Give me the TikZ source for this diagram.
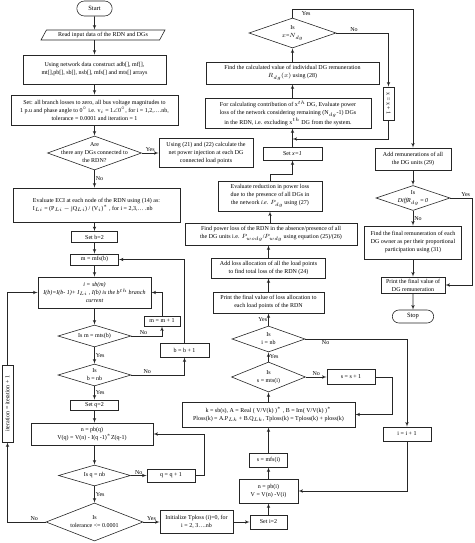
\documentclass[tikz,border=0pt]{standalone}
\usepackage{fontspec}
\setmainfont{Liberation Serif}
\usepackage{amsmath}
\usepackage{ amssymb }
\DeclareMathSizes{6}{6}{4.3}{3.5}
\usetikzlibrary{arrows}
\usetikzlibrary{shapes.geometric,shapes.misc}

\begin{document}
\begin{tikzpicture}[x=1pt,y=-1pt,->,>=latex',line width=0.6pt,color=black!85,
  box node/.style={draw,rectangle,align=center,inner sep=0.5pt,text=black,font=\fontsize{6}{8}\selectfont},
  test node/.style={draw,diamond,inner sep=0pt},
  in text/.style={align=center,inner sep=0pt,text=black,font=\fontsize{6}{8}\selectfont},
  end node/.style={draw,rounded rectangle,text=black,font=\fontsize{6.5}{8}\selectfont},
  io node/.style={draw,trapezium,trapezium left angle=50,trapezium right angle=130,trapezium stretches body,
    inner sep=0.5pt,text=black,font=\fontsize{6}{8}\selectfont},
  tag node/.style={inner sep=1pt,text=black,font=\fontsize{6}{7}\selectfont},
  box size/.style 2 args={minimum width=#1pt,minimum height=#2pt}]

  \path[use as bounding box] (0,0) rectangle (474,543);

  \node[end node,box size={42}{15}] (start) at (94.5,8.5) {Start};
  \node[io node,box size={124}{10}] (readin) at (103,35) {Read input data of the RDN and DGs};
  \node[box node,box size={143}{29}] (netdata) at (94.5,69.5) {Using network data construct adb[], mf[],\\mt[],pb[], sb[], nsb[], mfs[] and mts[] arrays};
  \node[box node,box size={167}{30}] (setall) at (94.5,110) {Set: all branch losses to zero, all bus voltage magnitudes to\\1 p.u and phase angle to 0$^\circ$ i.e. v$_i$ = 1$\angle$0$^\circ$, for i = 1,2,….nb,\\tolerance = 0.0001 and iteration = 1};
  \node[test node,box size={94}{34},label={[in text]center:{Are\\there any DGs connected to\\the RDN?}}] (anydg) at (94.5,153) {};
  \node[box node,box size={94}{29}] (netinj) at (206,153) {Using (21) and (22) calculate the\\net power injection at each DG\\connected load points};
  \node[box node,box size={167}{34},align=left] (eci) at (96.5,205) {Evaluate ECI at each node of the RDN using  (14) as:\\I$_{Li}$ = (P$_{Li}$ $-$ jQ$_{Li}$) / (V$_i$)$^*$ , for i = 2,3,… .nb};
  \node[box node,box size={46}{11}] (setb) at (94.5,237) {Set b=2};
  \node[box node,box size={48}{11}] (mfsb) at (94.5,259.5) {m = mfs(b)};
  \node[box node,box size={113}{31},font=\fontsize{6}{8}\selectfont\itshape] (branch) at (94.5,292.5) {i = sb(m)\\I(b)=I(b- 1)+ I$_{Li}$ , I(b) is the b$^{th}$ branch\\current};
  \node[box node,box size={36}{10}] (mnext) at (162,321) {m = m + 1};
  \node[test node,box size={73}{22},label={[in text]center:{Is m = mts(b)}}] (mlast) at (94.5,336) {};
  \node[box node,box size={49}{14}] (bnext) at (184.5,350) {b = b + 1};
  \node[test node,box size={73}{22},label={[in text]center:{Is\\b = nb}}] (blast) at (94.5,375) {};
  \node[box node,box size={48}{10}] (setq) at (94.5,405) {Set q=2};
  \node[box node,box size={122}{22}] (volt) at (92,434) {n = pb(q)\\V(q) = V(n) - I(q -1)$^*$Z(q-1)};
  \node[test node,box size={72}{21},label={[in text]center:{Is q = nb}}] (qlast) at (94.5,475.5) {};
  \node[box node,box size={48}{13}] (qnext) at (171,475.5) {q = q + 1};
  \node[test node,box size={97}{38},label={[in text]center:{Is\\tolerance <= 0.0001}}] (tol) at (94.5,522) {};
  \node[box node,box size={11}{77},label={[in text,rotate=90]center:{iteration = iteration + 1}}] (iter) at (7.5,403.5) {};
  \node[box node,box size={73}{23}] (inittp) at (196.5,522) {Initialize Tploss (i)=0, for\\i = 2, 3….nb};

  \node[box node,box size={37}{14}] (seti) at (268.5,522) {Set i=2};
  \node[box node,box size={59}{24}] (npbi) at (268.5,491) {n = pb(i)\\V = V(n) -V(i)};
  \node[box node,box size={38}{14}] (smfs) at (268.5,460) {s = mfs(i)};
  \node[box node,box size={173}{25}] (ploss) at (268.5,414.5) {k = sb(s), A = Real ( V/V(k) )$^*$ , B = Im( V/V(k) )$^*$\\Ploss(k) = A.P$_{Lk}$ + B.Q$_{Lk}$, Tploss(k) = Tploss(k) + ploss(k)};
  \node[test node,box size={74}{30},label={[in text]center:{Is\\s = mts(i)}}] (slast) at (268.5,377) {};
  \node[box node,box size={48}{15}] (snext) at (351,377) {s = s + 1};
  \node[test node,box size={73}{26},label={[in text]center:{Is\\i = nb}}] (ilast) at (268.5,339) {};
  \node[box node,box size={48}{14}] (inext) at (407,434) {i = i + 1};
  \node[box node,box size={111}{21}] (printla) at (268.5,302.5) {Print the final value of loss allocation to\\each load points of the RDN};
  \node[box node,box size={114}{20}] (addla) at (268.5,268) {Add loss allocation of all the load points\\to find total loss of the RDN (24)};
  \node[box node,box size={172}{22}] (findpl) at (271,234) {Find power loss of the RDN in the absence/presence of all\\the DG units i.e. $P_{wodg}$/$P_{wdg}$ using equation (25)/(26)};
  \node[box node,box size={104}{30}] (evalred) at (270,196) {Evaluate reduction in power loss\\due to the presence of all DGs in\\the network \textit{i.e.} $P_{dg}$ using (27)};
  \node[box node,box size={59}{13}] (setx) at (292.5,153.5) {Set \textit{x=1}};
  \node[box node,box size={166}{30}] (contrib) at (288,113) {For calculating contribution of x$^{th}$ DG, Evaluate power\\loss of the network considering remaining (N$_{dg}$-1) DGs\\in the RDN, i.e. excluding x$^{th}$ DG from the system.};
  \node[box node,box size={173}{22}] (findrem) at (292.5,73) {Find the calculated value of individual DG remuneration\\$R_{dg}(x)$ using (28)};
  \node[test node,box size={87}{30},label={[in text]center:{Is\\$x$=$N_{dg}$}}] (xlast) at (292.5,33) {};
  \node[box node,box size={11}{33},label={[in text,rotate=-90]center:{x = x + 1}}] (xnext) at (388.5,103.5) {};
  \coordinate (xjoin) at (292.5,139);

  \node[box node,box size={76}{22}] (addrem) at (413,159) {Add remunerations of all\\the DG units (29)};
  \node[test node,box size={74}{25},label={[in text]center:{Is\\\textit{DiffR}$_{dg}$ = \textit{0}}}] (diffr) at (413,198) {};
  \node[box node,box size={97}{33}] (finalrem) at (413,242.5) {Find the final remuneration of each\\DG owner as per their proportional\\participation using (31)};
  \node[box node,box size={64}{16}] (printrem) at (413,285) {Print the final value of\\DG remuneration};
  \node[end node,box size={48}{13}] (stop) at (413,316.5) {Stop};

  \path (start) edge (start |- readin.north)
    (start |- readin.south) edge (netdata)
    (netdata) edge (setall)
    (setall) edge (anydg)
    (anydg) edge node[tag node,above] {Yes} (netinj)
    (anydg) edge node[tag node,right] {No} (anydg |- eci.north)
    (anydg |- eci.south) edge (setb)
    (setb) edge (mfsb)
    (mfsb) edge (branch)
    (branch) edge (mlast)
    (mlast) edge node[tag node,right] {Yes} (blast)
    (blast) edge node[tag node,right] {Yes} (setq)
    (setq) edge (setq |- volt.north)
    (setq |- volt.south) edge (qlast)
    (qlast) edge node[tag node,above] {No} (qnext)
    (qlast) edge node[tag node,right] {Yes} (tol)
    (tol) edge node[tag node,above] {Yes} (inittp)
    (inittp) edge (seti)
    (seti) edge (npbi)
    (npbi) edge (smfs)
    (smfs) edge (ploss)
    (ploss) edge (slast)
    (slast) edge node[tag node,above] {No} (snext)
    (slast) edge node[tag node,right] {Yes} (ilast)
    (ilast) edge node[tag node,left] {Yes} (printla)
    (printla) edge (addla)
    (addla) edge (addla |- findpl.south)
    (evalred.south |- findpl.north) edge (evalred)
    (setx) edge (setx |- contrib.south)
    (setx |- contrib.north) edge (findrem)
    (findrem) edge (xlast)
    (addrem) edge (diffr)
    (diffr) edge node[tag node,right] {No} (finalrem)
    (finalrem) edge (printrem)
    (printrem) edge (stop);

  \draw (mlast.east) -| node[tag node,above,pos=0.2] {No} (mnext.south);
  \draw (mnext.north) |- (branch.east);
  \draw (blast.east) -| node[tag node,above,pos=0.15] {No} (bnext.south);
  \draw (bnext.north) |- (mfsb.east);
  \draw (qnext.east) -- ++(9,0) |- (volt.east);
  \draw (tol.west) -| node[tag node,above,pos=0.15] {No} (iter.south);
  \draw (iter.north) |- (branch.west);
  \draw (snext.east) -- ++(17,0) |- (ploss.east);
  \draw (ilast.east) -| node[tag node,below,pos=0.1] {No} (inext.north);
  \draw (inext.south) |- (npbi.east);
  \draw (evalred.north) -- ++(0,-6) -| (setx.south);
  \draw (xnext.south) |- (xjoin);
  \draw (xlast.north) -- node[tag node,right=8pt] {Yes} ++(0,-8.5) -| (addrem.north);
  \draw (xlast.east) -| node[tag node,above,pos=0.17] {No} (xnext.north);
  \draw (diffr.east) -- node[tag node,above,pos=0.7] {Yes} ++(22,0) |- (printrem.east);
\end{tikzpicture}
\end{document}
